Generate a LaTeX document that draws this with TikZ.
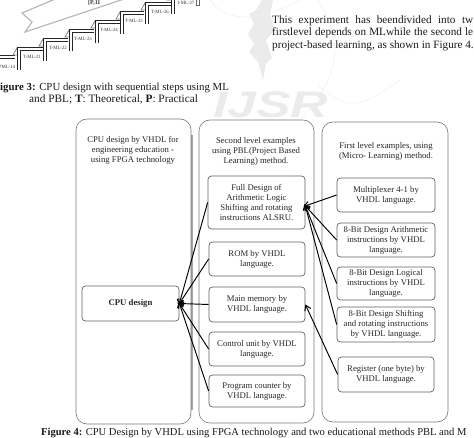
\documentclass[tikz,border=0pt]{standalone}
\usepackage{fontspec}
\setmainfont{Liberation Serif}
\newfontfamily\wmfont{Liberation Sans}
\usetikzlibrary{arrows.meta,positioning}
\definecolor{panelc}{HTML}{787878}
\definecolor{boxc}{HTML}{606060}
\definecolor{wm}{HTML}{EBEBEB}
\definecolor{wmline}{HTML}{F0F0F0}
\tikzset{
  x=1pt,y=-1pt,
  panel/.style={draw=panelc,line width=0.6pt,rounded corners=11pt,fill=none},
  boxn/.style={draw=boxc,line width=0.7pt,rounded corners=3.5pt,inner sep=0pt,align=center,
     font=\fontsize{8.7}{10}\selectfont,text=black!85},
  titlet/.style={inner sep=0pt,align=center,font=\fontsize{8.7}{10}\selectfont,text=black!85},
  link/.style={draw=black,line width=0.95pt,-{Straight Barb[length=5pt,width=6.5pt,line width=1pt]}},
  caption/.style={inner sep=0pt,anchor=base west,font=\fontsize{10.8}{12}\selectfont,text=black!90},
  para/.style={inner sep=0pt,anchor=base west,font=\fontsize{11.2}{12}\selectfont,text=black!90},
  stepbar/.style={draw=black!85,line width=1.3pt,double=white,double distance=1.4pt,line cap=butt},
  steptri/.style={draw=black!50,line width=0.7pt,fill=white},
  steplab/.style={inner sep=0pt,font=\fontsize{4.8}{5}\selectfont,text=black!80},
  ribbon/.style={draw=black!28,line width=1.2pt,fill=white}
}
\begin{document}
\begin{tikzpicture}
\useasboundingbox (0,0) rectangle (474,438);
\clip (0,0) rectangle (474,438);
% watermark
\fill[wm] (262,0) -- (273,0) -- (270,14) -- (275,30) -- (266,40) -- (272,58) -- (266,64) -- (263,80) -- (258,62) -- (249,52) -- (254,44) -- (248,34) -- (254,24) -- (249,14) -- (256,10) -- cycle;
\draw[wmline,line width=0.6pt] (318,0) .. controls (345,45) and (340,75) .. (300,120);
\draw[wmline,line width=0.6pt] (210,0) .. controls (225,20) and (250,25) .. (300,0);
\draw[wmline,line width=0.6pt] (318,85) .. controls (345,110) and (360,110) .. (400,80);
\node[inner sep=0pt,anchor=base west,text=wm,font=\wmfont\bfseries\itshape\fontsize{37}{37}\selectfont] at (213,118) {\scalebox{1.4}[1]{IJSR}};
% ribbon
\draw[ribbon] (60,-3) -- (22,13) -- (32,22) -- (25,32) -- (130,-3);
\node[inner sep=0pt,anchor=base west,font=\bfseries\fontsize{6}{6}\selectfont,text=black!80] at (88,5) {[P,11};
% stairs
\foreach \lx/\ty/\by/\ex/\id in {
  -10/57/68/15/a,
  19/49/70/43/b,
  45/40/61/68/c,
  71/31/51/94/d,
  97/22/43/120/e,
  122/13/34/144/f,
  147/4/24/172/g,
  173/-6/14/198/h}{
  \draw[steptri] (\lx-6,\ty+6) -- (\lx-2,\ty-1) -- (\lx-1,\ty+6) -- cycle;
  \draw[stepbar] (\ex,\ty) -- (\lx,\ty) -- (\lx,\by);
}
\draw[draw=black!60,line width=0.8pt] (196,-2) -- (196,5) -- (199,5) -- (199,-2);
\node[steplab] at (7,66.5) {PML-14};
\node[steplab] at (32,57) {T-ML-21};
\node[steplab] at (58,48) {T-ML-22};
\node[steplab] at (83,39) {T-ML-23};
\node[steplab] at (109,29.5) {T-ML-24};
\node[steplab] at (134,20.5) {T-ML-25};
\node[steplab] at (160,11.5) {T-ML-26};
\node[steplab] at (186,3) {I-ML-27};
% captions
\node[caption] at (0,91) {\textbf{igure 3:} CPU design with sequential steps using ML};
\node[caption,font=\fontsize{11.3}{12}\selectfont] at (29,103) {and PBL; \textbf{T}: Theoretical, \textbf{P}: Practical};
\node[para] at (272,23.5) {\makebox[201pt][s]{This experiment has beendivided into tw}};
\node[para] at (272,36) {\makebox[201pt][s]{firstlevel depends on MLwhile the second le}};
\node[para] at (272,49) {project-based learning, as shown in Figure 4.};
\node[caption,font=\fontsize{10.55}{12}\selectfont] at (41,435.5) {\textbf{Figure 4:} CPU Design by VHDL using FPGA technology and two educational methods PBL and M};
% panels
\draw[draw=black!35,line width=1.2pt] (192,135) -- (192,410);
\draw[panel] (76,119) rectangle (191,424);
\draw[panel] (199,120) rectangle (314,423);
\draw[panel] (322,122) rectangle (448,422);
\node[titlet] (t1) at (133,150) {CPU design by VHDL for\\engineering education -\\using FPGA technology};
\node[titlet] (t2) at (256,151) {Second level examples\\using PBL(Project Based\\Learning) method.};
\node[titlet] (t3) at (386,151) {First level examples, using\\(Micro- Learning) method.};
% boxes
\node[boxn,minimum width=97pt,minimum height=35pt] (cpu) at (130.5,303.5) {\textbf{CPU design}};
\node[boxn,minimum width=97pt,minimum height=53pt] (full) at (256.5,202.5) {Full Design of\\Arithmetic Logic\\Shifting and rotating\\instructions ALSRU.};
\node[boxn,minimum width=96pt,minimum height=34pt] (rom) at (257,259) {ROM by VHDL\\language.};
\node[boxn,minimum width=96pt,minimum height=35pt] (mem) at (257,304.5) {Main memory by\\VHDL language.};
\node[boxn,minimum width=96pt,minimum height=34pt] (ctrl) at (257,349) {Control unit by VHDL\\language.};
\node[boxn,minimum width=96pt,minimum height=32pt] (pc) at (257,391) {Program counter by\\VHDL language.};
\node[boxn,minimum width=98pt,minimum height=34pt] (mux) at (386,195) {Multiplexer 4-1 by\\VHDL language.};
\node[boxn,minimum width=98pt,minimum height=34pt] (arith) at (386,240) {8-Bit Design Arithmetic\\instructions by VHDL\\language.};
\node[boxn,minimum width=98pt,minimum height=33pt] (logic) at (386,283.5) {8-Bit Design Logical\\instructions by VHDL\\language.};
\node[boxn,minimum width=98pt,minimum height=35pt] (shift) at (386,324.5) {8-Bit Design Shifting\\and rotating instructions\\by VHDL language.};
\node[boxn,minimum width=96pt,minimum height=35pt] (reg) at (386,374.5) {Register (one byte) by\\VHDL language.};
% connectors
\foreach \s in {mux,arith,logic,shift}
  \draw[link,shorten >=-2pt] (\s.west) -- (full.-4);
\draw[link] (reg.west) -- (mem.east);
\foreach \s in {full,rom,mem,ctrl,pc}
  \draw[link,shorten >=-2pt] (\s.west) -- (cpu.east);
\end{tikzpicture}
\end{document}
